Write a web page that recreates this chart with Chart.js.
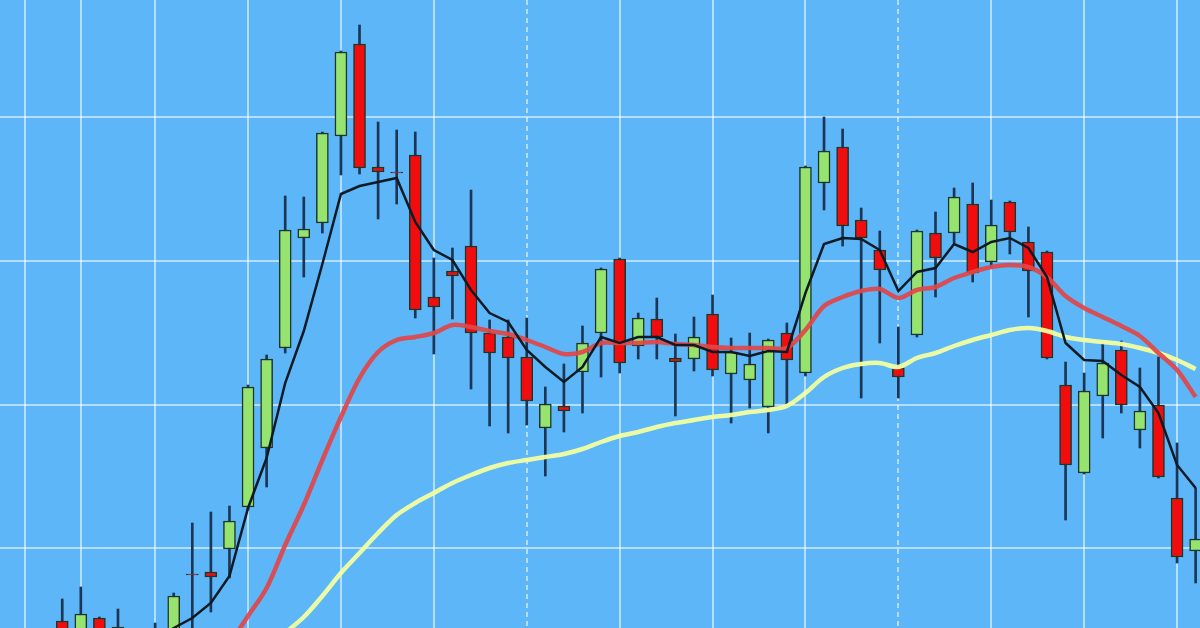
<!DOCTYPE html>
<html>
<head>
<meta charset="utf-8">
<script src="https://cdn.jsdelivr.net/npm/chart.js@4"></script>
<style>
  html, body { margin: 0; padding: 0; background: #5cb6f8; }
  #wrap { width: 1200px; height: 628px; }
</style>
</head>
<body>
<div id="wrap"><canvas id="candleChart"></canvas></div>
<script>
// price levels (bottom edge = 0, top edge = 628)
const openV  = [-32,-22,-32,7,-12,10,1,-17,-22,-12,54,56,79,121,180,280,390,405,492,584,461,456,473,331,357,382,295,291,271,200,222,256,295,369,282,309,270,269,314,254,248,221,295,255,445,481,408,378,260,293,395,395,424,366,426,386,376,243,155,232,278,198,223,130,77];
const highV  = [-12,-12,-10,29,41,11,19,-7,5,35,105,116,122,243,273,432,431,496,577,603,506,498,496,370,380,438,308,308,310,241,264,302,360,370,315,330,294,311,333,290,295,289,305,462,511,499,420,397,301,398,416,440,445,428,427,401,377,266,255,285,287,260,271,185,140];
const lowV   = [-52,-47,-44,-22,-22,-24,-20,-37,-37,-20,-12,16,50,118,141,275,351,395,453,454,409,424,310,274,309,239,202,195,203,152,196,215,251,255,269,269,212,257,252,205,220,195,224,252,418,382,230,285,230,291,331,385,346,360,374,311,269,108,154,190,215,180,150,65,45];
const closeV = [-22,-37,-17,-12,14,-14,-12,-27,-12,32,53,51,107,241,269,398,399,495,576,460,456,455,318,321,352,295,275,270,227,224,217,285,359,265,310,291,266,291,258,276,264,288,268,461,477,402,390,358,251,397,370,431,355,403,396,357,270,163,237,265,223,217,151,71,89];

// moving averages (fast / medium / slow)
const maFast = [-90,-85,-80,-70,-60,-50,-40,-25,-12,0,10,25,52,120,170,245,297,364,434,442,446,450,406,378,368,338,315,306,278,261,246,261,291,285,291,291,283,283,276,276,272,277,276,335,384,390,389,378,337,356,360,384,376,386,390,380,351,285,268,267,253,241,215,163,140];
const maMid  = [-200,-190,-180,-165,-150,-135,-120,-105,-90,-75,-60,-44,-16,12,40,83,123,168,211,250,276,288,291,295,303,301,297,294,288,281,274,276,285,285,285,286,284,283,281,280,280,280,280,298,322,331,337,339,330,338,341,350,356,361,363,361,351,332,320,311,302,292,275,258,231];
const maSlow = [-220,-210,-200,-190,-180,-165,-150,-135,-120,-105,-90,-75,-57,-39,-22,-5,11,32,55,75,95,113,125,135,145,153,160,165,168,171,174,179,186,192,196,201,205,208,211,213,216,218,222,235,251,260,264,265,261,270,275,282,288,293,298,300,297,291,288,286,284,280,275,268,259];

// grid positions
const gridX = [1,4,8,13,18,23,28,33,38,43,48,53,58,63];
const dashedX = [28,48];
const gridY = [80,223,367,511];

const UP = '#97e36f', DOWN = '#f10d0d';
const idx = openV.map((_, i) => i);
const candleColor = idx.map(i => closeV[i] >= openV[i] ? UP : DOWN);

const lineData = arr => arr.map((v, i) => ({ x: i, y: v }));

new Chart(document.getElementById('candleChart'), {
  type: 'bar',
  data: {
    datasets: [
      {
        type: 'line', label: 'MA fast', data: lineData(maFast),
        borderColor: '#0f1a24', borderWidth: 2.5, pointRadius: 0, tension: 0, order: 1
      },
      {
        type: 'line', label: 'MA mid', data: lineData(maMid),
        borderColor: 'rgba(226,70,72,0.92)', borderWidth: 4.5, pointRadius: 0, tension: 0.3, order: 2
      },
      {
        type: 'line', label: 'MA slow', data: lineData(maSlow),
        borderColor: 'rgba(242,255,160,0.95)', borderWidth: 4.5, pointRadius: 0, tension: 0.3, order: 3
      },
      {
        label: 'body', data: idx.map(i => ({ x: i, y: [openV[i], closeV[i]] })),
        backgroundColor: candleColor, borderColor: '#1e3528', borderWidth: 1.5,
        borderSkipped: false, barThickness: 12, grouped: false, order: 4
      },
      {
        label: 'wick', data: idx.map(i => ({ x: i, y: [lowV[i], highV[i]] })),
        backgroundColor: '#1c3554', borderWidth: 0,
        barThickness: 2, grouped: false, order: 5
      }
    ]
  },
  options: {
    responsive: true,
    maintainAspectRatio: false,
    animation: false,
    layout: { padding: 0 },
    plugins: { legend: { display: false }, tooltip: { enabled: false } },
    scales: {
      x: {
        type: 'linear', min: -0.35, max: 64.235, offset: false,
        afterBuildTicks: s => { s.ticks = gridX.map(v => ({ value: v })); },
        ticks: { display: false },
        grid: { color: 'rgba(255,255,255,0.55)', lineWidth: 2, drawTicks: false, offset: false },
        border: { display: false, dash: ctx => (ctx.tick && dashedX.includes(ctx.tick.value)) ? [5, 4] : [] }
      },
      y: {
        type: 'linear', min: 0, max: 628,
        afterBuildTicks: s => { s.ticks = gridY.map(v => ({ value: v })); },
        ticks: { display: false },
        grid: { color: 'rgba(255,255,255,0.55)', lineWidth: 2, drawTicks: false },
        border: { display: false }
      }
    }
  }
});
</script>
</body>
</html>
